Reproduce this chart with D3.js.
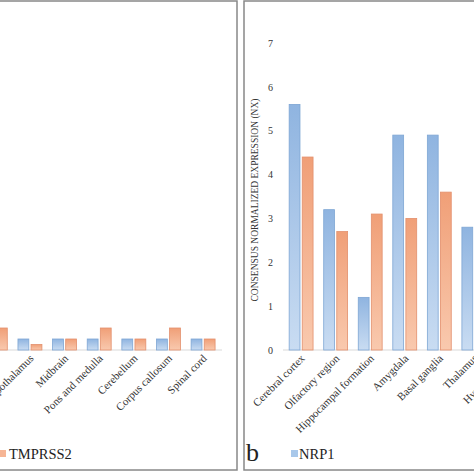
<!DOCTYPE html>
<html><head><meta charset="utf-8">
<script src="https://cdn.jsdelivr.net/npm/d3@7"></script>
<style>body{margin:0;background:#fff}</style></head>
<body><div id="chart"></div>
<script>
// Data
const regions = ['Cerebral cortex','Olfactory region','Hippocampal formation','Amygdala','Basal ganglia',
  'Thalamus','Hypothalamus','Midbrain','Pons and medulla','Cerebellum','Corpus callosum','Spinal cord'];
const aceVals = [1,1,1,1,1,1,1,1,1,1,1,1];
const tmprss2Vals = [2,2,2,2,2,2,0.5,1,2,1,2,1];
const nrp1Vals = [5.6,3.2,1.2,4.9,4.9,2.8,2.6,2.0,1.8,1.5,1.0,1.6];
const nrp2Vals = [4.4,2.7,3.1,3.0,3.6,2.4,2.2,2.5,2.0,1.2,1.4,2.2];
const yTicks = [0,1,2,3,4,5,6,7];

const W = 474, H = 474;
const blue = '#a9c8ea', blueS = '#7ea6d4', orange = '#f6b595', orangeS = '#e3906d';
const font = 'Liberation Serif, Times New Roman, serif';

const svg = d3.select('#chart').append('svg').attr('width', W).attr('height', H);
const defs = svg.append('defs');
[['gb', '#c9dcf2', '#8fb4e0'], ['go', '#f9c9ae', '#f09f77']].forEach(([id, c1, c2]) => {
  const g = defs.append('linearGradient').attr('id', id).attr('x1', 0).attr('x2', 0).attr('y1', 0).attr('y2', 1);
  g.append('stop').attr('offset', '0%').attr('stop-color', c2);
  g.append('stop').attr('offset', '100%').attr('stop-color', c1);
});

function panel(clipX, clipW, x0, x1, yScale, s1, s2, showAxis) {
  const id = 'c' + clipX;
  defs.append('clipPath').attr('id', id).append('rect').attr('x', clipX).attr('y', 0).attr('width', clipW).attr('height', H);
  const g = svg.append('g').attr('clip-path', `url(#${id})`);
  const x = d3.scaleBand().domain(regions).range([x0, x1]).paddingInner(0.33).paddingOuter(0.2);
  const half = x.bandwidth() / 2;
  // baseline
  g.append('line').attr('x1', x0).attr('x2', x1).attr('y1', yScale(0)).attr('y2', yScale(0))
    .attr('stroke', '#d9d9d9');
  [[s1, 'url(#gb)', blueS, 0], [s2, 'url(#go)', orangeS, 1]].forEach(([vals, fill, stroke, k]) => {
    g.selectAll(null).data(regions).enter().append('rect')
      .attr('x', d => x(d) + k * (half + 1.5) - 0.75)
      .attr('width', half - 0.75)
      .attr('y', (d, i) => yScale(vals[i]))
      .attr('height', (d, i) => yScale(0) - yScale(vals[i]))
      .attr('fill', fill).attr('stroke', stroke).attr('stroke-width', 0.8);
  });
  g.selectAll(null).data(regions).enter().append('text')
    .attr('transform', d => `translate(${x(d) + x.bandwidth() / 2 + 4},${yScale(0) + 9}) rotate(-45)`)
    .attr('text-anchor', 'end').attr('font-family', font).attr('font-size', 11).attr('fill', '#333')
    .text(d => d);
  if (showAxis) {
    g.append('g').attr('transform', `translate(${x0},0)`)
      .call(d3.axisLeft(yScale).tickValues(yTicks).tickFormat(d3.format('d')).tickSize(0).tickPadding(10))
      .call(a => a.select('.domain').remove())
      .selectAll('text').attr('font-family', font).attr('font-size', 10).attr('fill', '#333');
  }
  return g;
}

// Left panel (cropped)
const yL = d3.scaleLinear().domain([0, 2]).range([350, 328]);
panel(0, 237, -196, 222, yL, aceVals, tmprss2Vals, false);
// Right panel
const yR = d3.scaleLinear().domain([0, 7]).range([350, 43]);
const gR = panel(244, 230, 283, 700, yR, nrp1Vals, nrp2Vals, true);

gR.append('text').attr('transform', 'translate(258,200) rotate(-90)').attr('text-anchor', 'middle')
  .attr('font-family', font).attr('font-size', 9.5).attr('fill', '#333')
  .text('CONSENSUS NORMALIZED EXPRESSION (NX)');
gR.append('text').attr('x', 246).attr('y', 461).attr('font-family', font).attr('font-size', 26).attr('fill', '#222').text('b');

// Legends
svg.append('rect').attr('x', -1).attr('y', 450).attr('width', 7).attr('height', 7).attr('fill', orange);
svg.append('text').attr('x', 9).attr('y', 459).attr('font-family', font).attr('font-size', 14.5).attr('fill', '#222').text('TMPRSS2');
svg.append('rect').attr('x', 291).attr('y', 450).attr('width', 7).attr('height', 7).attr('fill', blue);
svg.append('text').attr('x', 299).attr('y', 459).attr('font-family', font).attr('font-size', 14.5).attr('fill', '#222').text('NRP1');

// Panel borders
svg.append('rect').attr('x', -5).attr('y', 1).attr('width', 242).attr('height', 469).attr('fill', 'none').attr('stroke', '#888').attr('stroke-width', 1.5);
svg.append('rect').attr('x', 244).attr('y', 1).attr('width', 240).attr('height', 469).attr('fill', 'none').attr('stroke', '#888').attr('stroke-width', 1.5);
</script></body></html>
